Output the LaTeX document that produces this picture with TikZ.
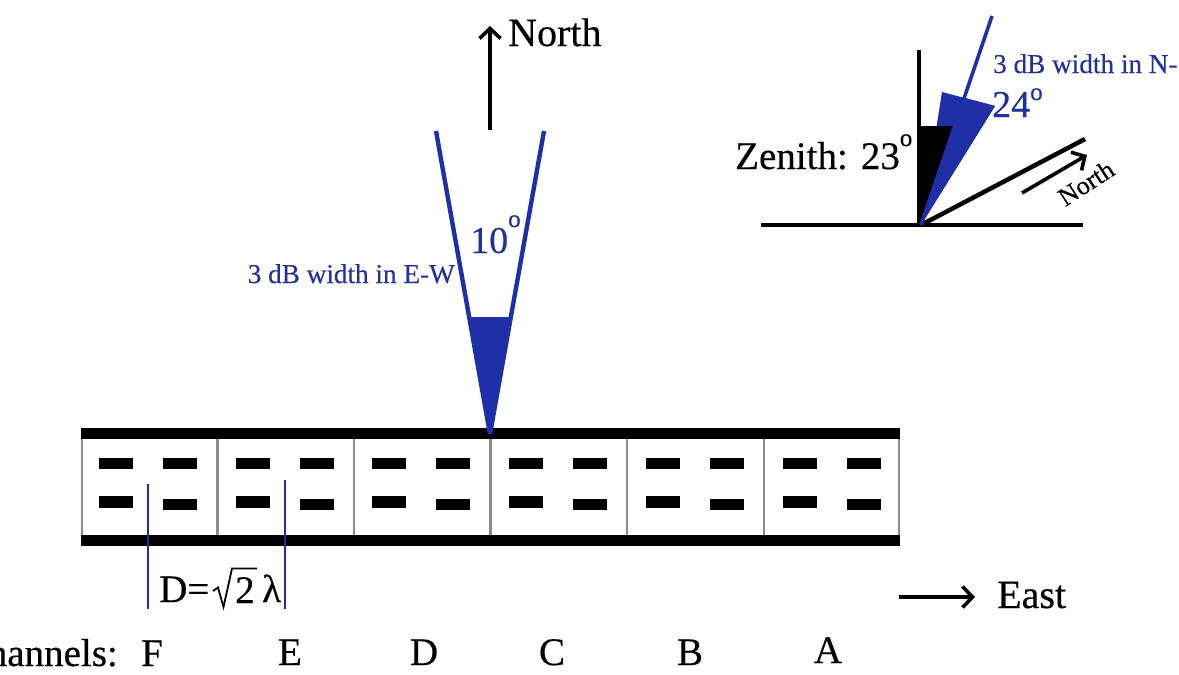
\documentclass[tikz,border=0pt]{standalone}
\usepackage{fontspec}
\setmainfont[FakeBold=0.35]{Liberation Serif}
\usetikzlibrary{arrows.meta}
\definecolor{beam}{HTML}{1F2FA8}
\definecolor{beamtext}{HTML}{24309A}
\definecolor{divider}{HTML}{8C8C8C}
\newcommand{\degmark}[1]{\raisebox{#1}{\fontsize{25}{25}\selectfont o}}
\tikzset{
  lbl/.style={inner sep=0pt,text=black,font=\fontsize{39}{41}\selectfont},
  bluelbl/.style={inner sep=0pt,text=beamtext,font=\fontsize{27.2}{29}\selectfont},
  bluebig/.style={inner sep=0pt,text=beamtext,font=\fontsize{38}{40}\selectfont},
  rail/.style={fill=black,draw=none,minimum width=819pt,minimum height=11pt,inner sep=0pt},
  dipole/.style={fill=black,draw=none,minimum width=34pt,minimum height=11.5pt,inner sep=0pt},
  divline/.style={draw=divider,line width=2.6pt},
  beamline/.style={draw=beam,line width=4.4pt},
  thinblue/.style={draw=beam,line width=2.6pt},
  axis/.style={draw=black,line width=4.5pt},
  arr/.style={draw=black,line width=4.2pt,-{Straight Barb[length=10pt,width=21pt,line width=3.6pt]}},
}
\begin{document}
\begin{tikzpicture}[x=1pt,y=-1pt]
\useasboundingbox (0,0) rectangle (1179,675);
% cell dividers
\foreach \i/\x in {0/82,1/217.5,2/354,3/490.5,4/627,5/764,6/899}{
  \coordinate (dt\i) at (\x,433);
  \coordinate (db\i) at (\x,541);
  \path[divline] (dt\i) -- (db\i);
}
% rails
\node[rail] (railT) at (490.5,433.5) {};
\node[rail] (railB) at (490.5,540.5) {};
% dipoles
\foreach \i in {0,...,5}{
  \pgfmathsetmacro{\xa}{116+136.7*\i}
  \pgfmathsetmacro{\xb}{180+136.7*\i}
  \node[dipole] (dTL\i) at (\xa,463.5) {};
  \node[dipole] (dTR\i) at (\xb,463.5) {};
  \node[dipole] (dBL\i) at (\xa,502) {};
  \node[dipole] (dBR\i) at (\xb,504.5) {};
}
% spacing markers
\coordinate (fT) at (148,484); \coordinate (fB) at (148,609);
\coordinate (eT) at (285,480); \coordinate (eB) at (285,609);
\path[thinblue] (fT) -- (fB);
\path[thinblue] (eT) -- (eB);
\node[lbl,anchor=base west] (dlabel) at (159,602) {D=};
\coordinate (r0) at (213,591); \coordinate (r1) at (218,587.5);
\coordinate (r2) at (223.5,607); \coordinate (r3) at (232,568.5); \coordinate (r4) at (257,568.5);
\draw[line width=1.8pt,line join=miter] (r0) -- (r1) -- (r2) -- (r3) -- (r4);
\node[lbl,anchor=base west] (two) at (235,603) {2};
\node[lbl,anchor=base west] (lam) at (262,602) {λ};
% east-west beam
\coordinate (apex) at (490,434);
\coordinate (bl) at (436,131);
\coordinate (br) at (544,131);
\coordinate (fl) at (471,317);
\coordinate (fr) at (510,317);
\fill[beam] (apex) -- (fl) -- (fr) -- cycle;
\path[beamline] (apex) -- (bl);
\path[beamline] (apex) -- (br);
\node[bluebig,anchor=base west] (ten) at (470,253) {10\degmark{26pt}};
\node[bluelbl,anchor=base east] (ew) at (455,283) {3 dB width in E-W};
% north arrow
\coordinate (nS) at (490,130);
\coordinate (nE) at (490,26);
\path[arr] (nS) -- (nE);
\node[lbl,anchor=base west,font=\fontsize{40}{42}\selectfont] (north) at (508,46) {North};
% east arrow
\coordinate (eS) at (899,597);
\coordinate (eE) at (975,597);
\path[arr] (eS) -- (eE);
\node[lbl,anchor=base west,font=\fontsize{40}{42}\selectfont] (east) at (997,608) {East};
% channels
\node[lbl,anchor=base east] (chan) at (118,666) {Channels:};
\node[lbl,anchor=base] (chF) at (152,666) {F};
\node[lbl,anchor=base] (chE) at (290,665) {E};
\node[lbl,anchor=base] (chD) at (424,665) {D};
\node[lbl,anchor=base] (chC) at (552,665) {C};
\node[lbl,anchor=base] (chB) at (690,665) {B};
\node[lbl,anchor=base] (chA) at (828,663) {A};
% inset
\coordinate (o) at (921,225);
\coordinate (zt) at (919,50);
\coordinate (zb) at (919,225);
\coordinate (hl) at (761,225);
\coordinate (hr) at (1083,225);
\coordinate (nt) at (1085,139);
\coordinate (bt) at (992,16);
\coordinate (wl) at (942,92);
\coordinate (wm) at (965,98);
\coordinate (wr) at (995,106);
\coordinate (kl) at (919,126);
\coordinate (kr) at (955,126);
\path[axis] (zb) -- (zt);
\path[axis] (hl) -- (hr);
\path[axis] (o) -- (nt);
\fill[beam] (o) -- (wl) -- (wr) -- cycle;
\fill[black] (o) -- (kl) -- (kr) -- cycle;
\fill[beam] (o) -- (wm) -- (wr) -- cycle;
\path[draw=beam,line width=3.6pt] (o) -- (bt);
\node[lbl,anchor=base west] (zen) at (735,169) {Zenith: 23\degmark{23pt}};
\node[bluelbl,anchor=base west] (ns) at (993,73) {3 dB width in N-};
\node[bluebig,anchor=base west] (tf) at (992,117) {24\degmark{17pt}};
\coordinate (naS) at (1022,193);
\coordinate (naE) at (1087,155);
\path[arr,line width=3.6pt] (naS) -- (naE);
\node[inner sep=0pt,font=\fontsize{26}{28}\selectfont,rotate=33] (nsmall) at (1086,183) {North};
\end{tikzpicture}
\end{document}
